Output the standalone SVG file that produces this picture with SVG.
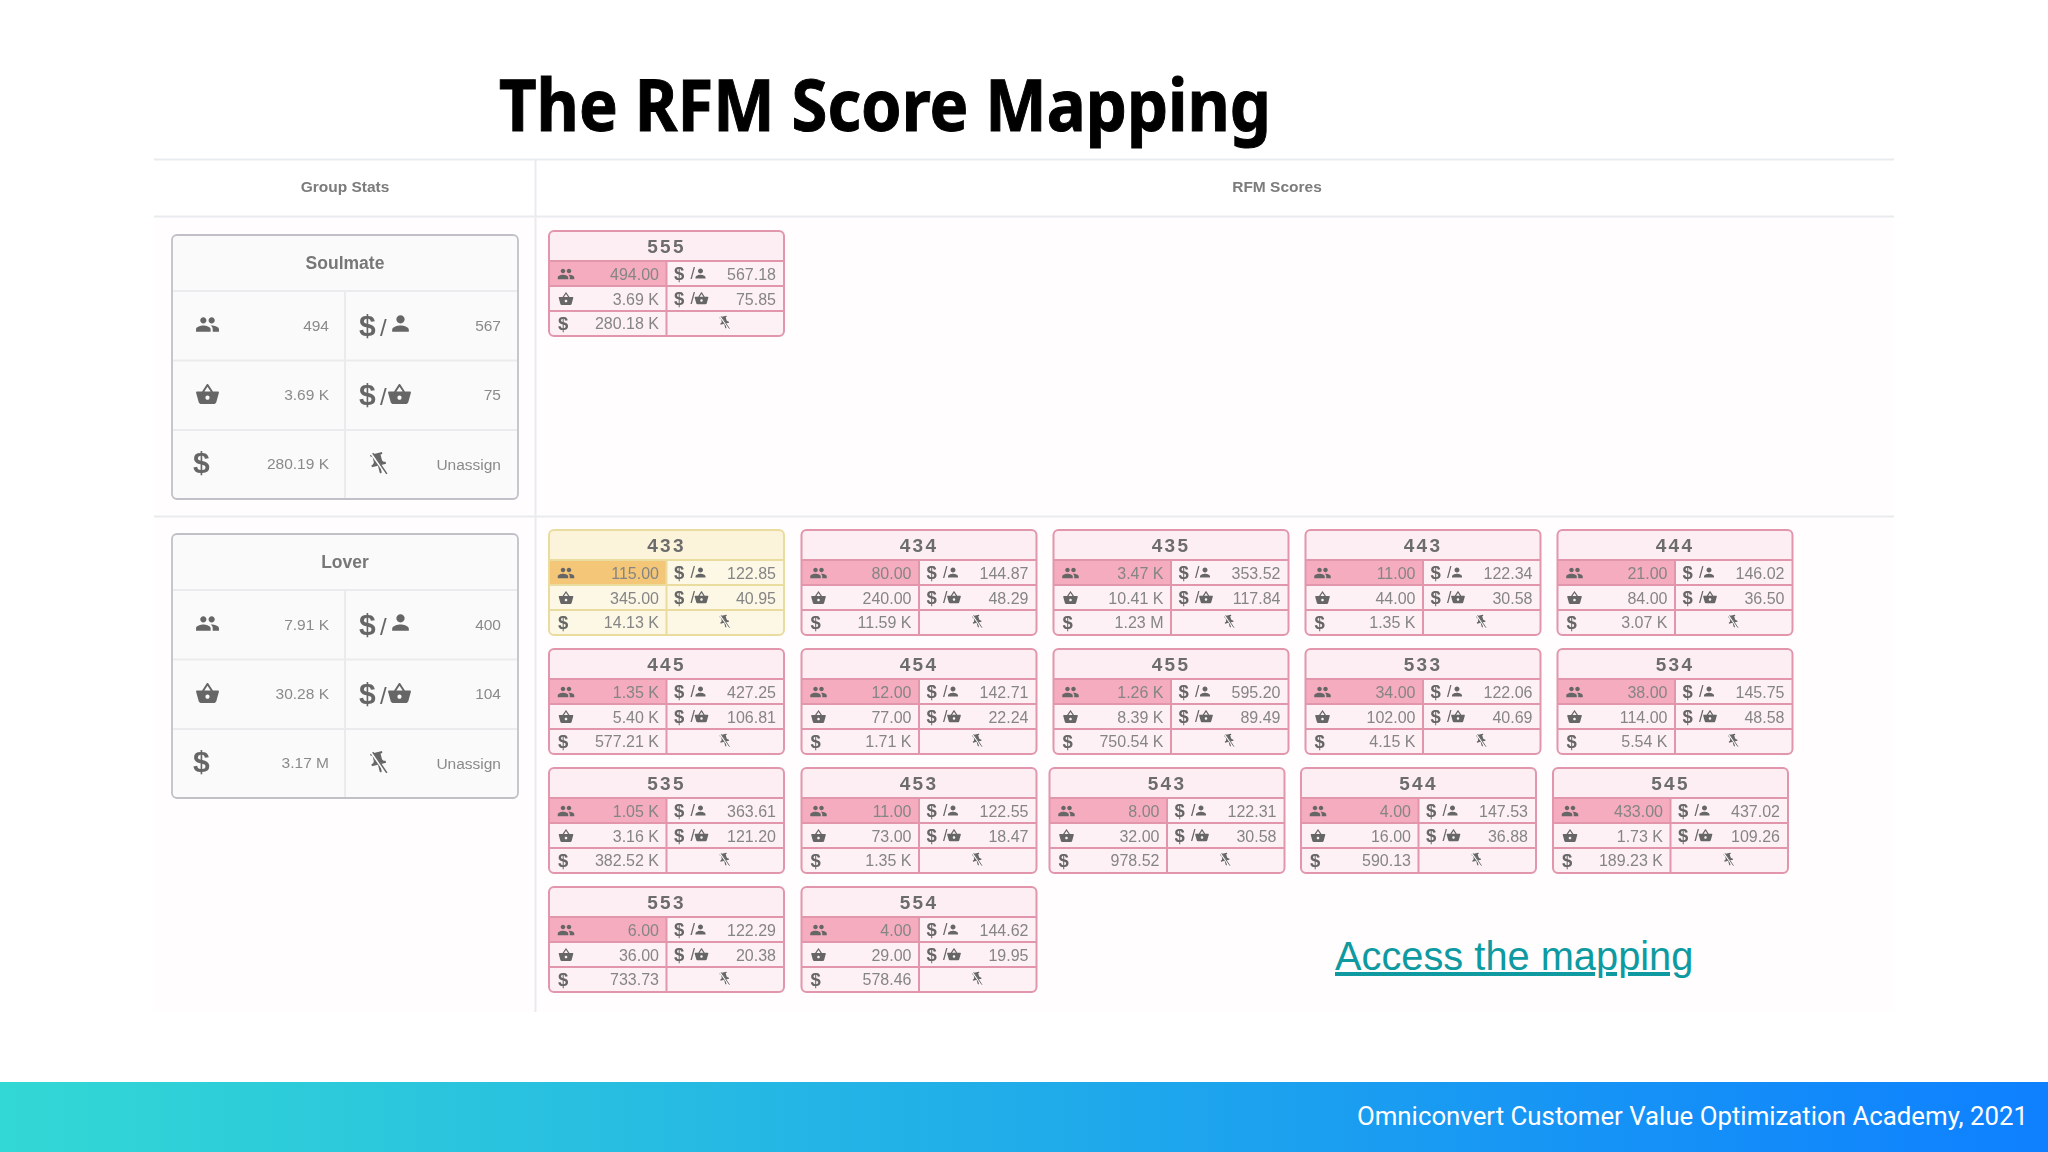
<svg xmlns="http://www.w3.org/2000/svg" xmlns:xlink="http://www.w3.org/1999/xlink" width="2048" height="1152" viewBox="0 0 2048 1152">
<style>
text{font-family:"Liberation Sans",Arial,sans-serif}
.title{font-family:"Noto Sans","Open Sans",sans-serif;font-weight:700;font-size:71px;fill:#000;stroke:#000;stroke-width:1}
.th{font-weight:700;font-size:15.5px;fill:#7b7b7b;text-anchor:middle}
.pt{font-weight:700;font-size:17.5px;fill:#777;text-anchor:middle}
.pv{font-size:15.5px;fill:#8a8a8a;text-anchor:end}
.ps{font-size:30px;font-weight:700;fill:#666}
.psl{font-size:24px;fill:#666}
.ct{font-weight:700;font-size:19px;fill:#6c6c6c;text-anchor:middle;letter-spacing:2.2px}
.v{font-size:16px;fill:#858585;text-anchor:end}
.s{font-size:18.5px;font-weight:700;fill:#666}
.sl{font-size:16px;fill:#666;text-anchor:end}
.ic{fill:#666}
.rule{stroke:#e9ecee;stroke-width:2;fill:none}
.pf{fill:#fafafb;stroke:#c0c0c6;stroke-width:1.8}
.pl{stroke:#ebebee;stroke-width:2;fill:none}
.link{font-size:39.8px;fill:#0e9aa0;text-decoration:underline}
.foot{font-family:Roboto,"Liberation Sans",sans-serif;font-size:25.8px;fill:#fff}
.pb{fill:#fdf1f5}.ph{fill:#fceef3}.pm{fill:#f5acbf}.pk{stroke:#e296ab;stroke-width:2;fill:none}
.gb{fill:#fdf7e6}.gh{fill:#fbf3da}.gm{fill:#f3c678}.gk{stroke:#eadc9f;stroke-width:2;fill:none}
</style>
<defs>
<linearGradient id="band" x1="0" x2="1" y1="0" y2="0"><stop offset="0" stop-color="#32d8d4"/><stop offset="1" stop-color="#0e80ff"/></linearGradient>
<filter id="soft" x="-2%" y="-2%" width="104%" height="104%"><feGaussianBlur stdDeviation="0.55"/></filter>
<symbol id="people" viewBox="0 0 24 24"><path d="M16 11c1.66 0 2.99-1.34 2.99-3S17.66 5 16 5c-1.66 0-3 1.34-3 3s1.34 3 3 3zm-8 0c1.66 0 2.99-1.34 2.99-3S9.66 5 8 5C6.34 5 5 6.34 5 8s1.34 3 3 3zm0 2c-2.33 0-7 1.17-7 3.5V19h14v-2.5c0-2.33-4.67-3.5-7-3.5zm8 0c-.29 0-.62.02-.97.05 1.16.84 1.97 1.97 1.97 3.45V19h6v-2.5c0-2.33-4.67-3.5-7-3.5z"/></symbol>
<symbol id="person" viewBox="0 0 24 24"><path d="M12 12c2.21 0 4-1.79 4-4s-1.79-4-4-4-4 1.79-4 4 1.79 4 4 4zm0 2c-2.67 0-8 1.34-8 4v2h16v-2c0-2.66-5.33-4-8-4z"/></symbol>
<symbol id="basket" viewBox="0 0 24 24"><path d="M17.21 9l-4.38-6.56c-.19-.28-.51-.42-.83-.42-.32 0-.64.14-.83.43L6.79 9H2c-.55 0-1 .45-1 1 0 .09.01.18.04.27l2.54 9.27c.23.84 1 1.46 1.92 1.46h13c.92 0 1.69-.62 1.93-1.46l2.54-9.27L23 10c0-.55-.45-1-1-1h-4.79zM9 9l3-4.4L15 9H9zm3 8c-1.1 0-2-.9-2-2s.9-2 2-2 2 .9 2 2-.9 2-2 2z"/></symbol>
<symbol id="unpin" viewBox="0 0 24 24"><g transform="rotate(-14 12 12)"><path d="M16 9V4h1c.55 0 1-.45 1-1s-.45-1-1-1H7c-.55 0-1 .45-1 1s.45 1 1 1h1v5c0 1.66-1.34 3-3 3v2h5.97v7l1 1 1-1v-7H19v-2c-1.66 0-3-1.34-3-3z"/></g><path d="M5 2L20 23" stroke="#fff" stroke-width="2.5"/><path d="M6.500 2L20 22" stroke="currentColor" stroke-width="1.500"/></symbol>
<g id="icons">
<use href="#people" class="ic" x="8" y="34" width="18" height="18"/>
<use href="#basket" class="ic" x="9" y="60" width="16" height="16"/>
<text class="s" x="9" y="99">$</text>
<text class="s" x="125" y="49">$</text><text class="sl" x="146" y="48">/</text>
<use href="#person" class="ic" x="144" y="35" width="15" height="15"/>
<text class="s" x="125" y="74">$</text><text class="sl" x="146" y="73">/</text>
<use href="#basket" class="ic" x="145" y="60" width="15" height="15"/>
<use href="#unpin" class="ic" color="#666" x="168" y="84" width="15" height="15"/>
</g>
<g id="card-pink">
<rect class="pb" x="0" y="0" width="235" height="105" rx="5"/>
<path class="ph" d="M0 30V5a5 5 0 0 1 5-5H230a5 5 0 0 1 5 5V30Z"/>
<rect class="pm" x="0" y="30" width="117" height="25"/>
<path class="pk" d="M0 30H235M0 55H235M0 80H235M117.500 30V105"/>
<rect class="pk" x="0" y="0" width="235" height="105" rx="5"/>
<use href="#icons"/>
</g>
<g id="card-gold">
<rect class="gb" x="0" y="0" width="235" height="105" rx="5"/>
<path class="gh" d="M0 30V5a5 5 0 0 1 5-5H230a5 5 0 0 1 5 5V30Z"/>
<rect class="gm" x="0" y="30" width="117" height="25"/>
<path class="gk" d="M0 30H235M0 55H235M0 80H235M117.500 30V105"/>
<rect class="gk" x="0" y="0" width="235" height="105" rx="5"/>
<use href="#icons"/>
</g>
<g id="panel">
<rect class="pf" x="0" y="0" width="346" height="264" rx="5"/>
<path class="pl" d="M1 56H345M1 125.500H345M1 195H345M173 56V263"/>
<use href="#people" class="ic" x="23" y="77" width="25" height="25"/>
<text class="ps" x="187" y="101">$</text><text class="psl" x="208" y="101">/</text>
<use href="#person" class="ic" x="216" y="76" width="25" height="25"/>
<use href="#basket" class="ic" x="23" y="147" width="25" height="25"/>
<text class="ps" x="187" y="170">$</text><text class="psl" x="208" y="170">/</text>
<use href="#basket" class="ic" x="215" y="147" width="25" height="25"/>
<text class="ps" x="21" y="238">$</text>
<use href="#unpin" class="ic" color="#666" x="194" y="216" width="25" height="25"/>
</g>
</defs>
<rect x="0" y="0" width="2048" height="1152" fill="#fff"/>
<text id="title" class="title" x="499" y="131" textLength="772" lengthAdjust="spacingAndGlyphs">The RFM Score Mapping</text>
<g id="table" filter="url(#soft)">
<rect x="154" y="216" width="1740" height="796" fill="#fffdfe"/>
<path class="rule" d="M154 159.500H1894M154 216.500H1894M154 516.500H1894M535.500 159V1012"/>
<text class="th" x="345" y="192">Group Stats</text>
<text class="th" x="1277" y="192">RFM Scores</text>
<g id="panel-soulmate" transform="translate(172 235)">
<use href="#panel"/>
<text class="pt" x="173" y="34">Soulmate</text>
<text class="pv" x="157" y="96">494</text><text class="pv" x="329" y="96">567</text>
<text class="pv" x="157" y="165">3.69 K</text><text class="pv" x="329" y="165">75</text>
<text class="pv" x="157" y="234">280.19 K</text><text class="pv" x="329" y="235">Unassign</text>
</g>
<g id="panel-lover" transform="translate(172 534)">
<use href="#panel"/>
<text class="pt" x="173" y="34">Lover</text>
<text class="pv" x="157" y="96">7.91 K</text><text class="pv" x="329" y="96">400</text>
<text class="pv" x="157" y="165">30.28 K</text><text class="pv" x="329" y="165">104</text>
<text class="pv" x="157" y="234">3.17 M</text><text class="pv" x="329" y="235">Unassign</text>
</g>
<g id="card-555" transform="translate(549 231)"><use href="#card-pink"/><text class="ct" x="117.500" y="22">555</text><text class="v" x="110" y="49">494.00</text><text class="v" x="227" y="49">567.18</text><text class="v" x="110" y="74">3.69 K</text><text class="v" x="227" y="74">75.85</text><text class="v" x="110" y="98">280.18 K</text></g>
<g id="card-433" transform="translate(549 530)"><use href="#card-gold"/><text class="ct" x="117.500" y="22">433</text><text class="v" x="110" y="49">115.00</text><text class="v" x="227" y="49">122.85</text><text class="v" x="110" y="74">345.00</text><text class="v" x="227" y="74">40.95</text><text class="v" x="110" y="98">14.13 K</text></g>
<g id="card-434" transform="translate(801.500 530)"><use href="#card-pink"/><text class="ct" x="117.500" y="22">434</text><text class="v" x="110" y="49">80.00</text><text class="v" x="227" y="49">144.87</text><text class="v" x="110" y="74">240.00</text><text class="v" x="227" y="74">48.29</text><text class="v" x="110" y="98">11.59 K</text></g>
<g id="card-435" transform="translate(1053.500 530)"><use href="#card-pink"/><text class="ct" x="117.500" y="22">435</text><text class="v" x="110" y="49">3.47 K</text><text class="v" x="227" y="49">353.52</text><text class="v" x="110" y="74">10.41 K</text><text class="v" x="227" y="74">117.84</text><text class="v" x="110" y="98">1.23 M</text></g>
<g id="card-443" transform="translate(1305.500 530)"><use href="#card-pink"/><text class="ct" x="117.500" y="22">443</text><text class="v" x="110" y="49">11.00</text><text class="v" x="227" y="49">122.34</text><text class="v" x="110" y="74">44.00</text><text class="v" x="227" y="74">30.58</text><text class="v" x="110" y="98">1.35 K</text></g>
<g id="card-444" transform="translate(1557.500 530)"><use href="#card-pink"/><text class="ct" x="117.500" y="22">444</text><text class="v" x="110" y="49">21.00</text><text class="v" x="227" y="49">146.02</text><text class="v" x="110" y="74">84.00</text><text class="v" x="227" y="74">36.50</text><text class="v" x="110" y="98">3.07 K</text></g>
<g id="card-445" transform="translate(549 649)"><use href="#card-pink"/><text class="ct" x="117.500" y="22">445</text><text class="v" x="110" y="49">1.35 K</text><text class="v" x="227" y="49">427.25</text><text class="v" x="110" y="74">5.40 K</text><text class="v" x="227" y="74">106.81</text><text class="v" x="110" y="98">577.21 K</text></g>
<g id="card-454" transform="translate(801.500 649)"><use href="#card-pink"/><text class="ct" x="117.500" y="22">454</text><text class="v" x="110" y="49">12.00</text><text class="v" x="227" y="49">142.71</text><text class="v" x="110" y="74">77.00</text><text class="v" x="227" y="74">22.24</text><text class="v" x="110" y="98">1.71 K</text></g>
<g id="card-455" transform="translate(1053.500 649)"><use href="#card-pink"/><text class="ct" x="117.500" y="22">455</text><text class="v" x="110" y="49">1.26 K</text><text class="v" x="227" y="49">595.20</text><text class="v" x="110" y="74">8.39 K</text><text class="v" x="227" y="74">89.49</text><text class="v" x="110" y="98">750.54 K</text></g>
<g id="card-533" transform="translate(1305.500 649)"><use href="#card-pink"/><text class="ct" x="117.500" y="22">533</text><text class="v" x="110" y="49">34.00</text><text class="v" x="227" y="49">122.06</text><text class="v" x="110" y="74">102.00</text><text class="v" x="227" y="74">40.69</text><text class="v" x="110" y="98">4.15 K</text></g>
<g id="card-534" transform="translate(1557.500 649)"><use href="#card-pink"/><text class="ct" x="117.500" y="22">534</text><text class="v" x="110" y="49">38.00</text><text class="v" x="227" y="49">145.75</text><text class="v" x="110" y="74">114.00</text><text class="v" x="227" y="74">48.58</text><text class="v" x="110" y="98">5.54 K</text></g>
<g id="card-535" transform="translate(549 768)"><use href="#card-pink"/><text class="ct" x="117.500" y="22">535</text><text class="v" x="110" y="49">1.05 K</text><text class="v" x="227" y="49">363.61</text><text class="v" x="110" y="74">3.16 K</text><text class="v" x="227" y="74">121.20</text><text class="v" x="110" y="98">382.52 K</text></g>
<g id="card-453" transform="translate(801.500 768)"><use href="#card-pink"/><text class="ct" x="117.500" y="22">453</text><text class="v" x="110" y="49">11.00</text><text class="v" x="227" y="49">122.55</text><text class="v" x="110" y="74">73.00</text><text class="v" x="227" y="74">18.47</text><text class="v" x="110" y="98">1.35 K</text></g>
<g id="card-543" transform="translate(1049.500 768)"><use href="#card-pink"/><text class="ct" x="117.500" y="22">543</text><text class="v" x="110" y="49">8.00</text><text class="v" x="227" y="49">122.31</text><text class="v" x="110" y="74">32.00</text><text class="v" x="227" y="74">30.58</text><text class="v" x="110" y="98">978.52</text></g>
<g id="card-544" transform="translate(1301 768)"><use href="#card-pink"/><text class="ct" x="117.500" y="22">544</text><text class="v" x="110" y="49">4.00</text><text class="v" x="227" y="49">147.53</text><text class="v" x="110" y="74">16.00</text><text class="v" x="227" y="74">36.88</text><text class="v" x="110" y="98">590.13</text></g>
<g id="card-545" transform="translate(1553 768)"><use href="#card-pink"/><text class="ct" x="117.500" y="22">545</text><text class="v" x="110" y="49">433.00</text><text class="v" x="227" y="49">437.02</text><text class="v" x="110" y="74">1.73 K</text><text class="v" x="227" y="74">109.26</text><text class="v" x="110" y="98">189.23 K</text></g>
<g id="card-553" transform="translate(549 887)"><use href="#card-pink"/><text class="ct" x="117.500" y="22">553</text><text class="v" x="110" y="49">6.00</text><text class="v" x="227" y="49">122.29</text><text class="v" x="110" y="74">36.00</text><text class="v" x="227" y="74">20.38</text><text class="v" x="110" y="98">733.73</text></g>
<g id="card-554" transform="translate(801.500 887)"><use href="#card-pink"/><text class="ct" x="117.500" y="22">554</text><text class="v" x="110" y="49">4.00</text><text class="v" x="227" y="49">144.62</text><text class="v" x="110" y="74">29.00</text><text class="v" x="227" y="74">19.95</text><text class="v" x="110" y="98">578.46</text></g>
</g>
<text id="link" class="link" x="1335" y="970">Access the mapping</text>
<g id="footer">
<rect x="0" y="1082" width="2048" height="70" fill="url(#band)"/>
<text class="foot" x="1357" y="1125">Omniconvert Customer Value Optimization Academy, 2021</text>
</g>
</svg>
